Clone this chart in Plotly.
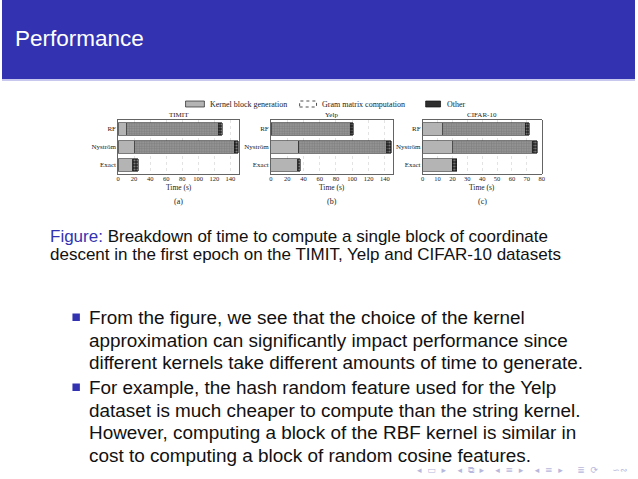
import plotly.graph_objects as go

W, H = 638, 479

categories = ["RF", "Nyström", "Exact"]
datasets = ["TIMIT", "Yelp", "CIFAR-10"]
panel_labels = ["(a)", "(b)", "(c)"]
series_names = ["Kernel block generation", "Gram matrix computation", "Other"]

timit_kernel = [10, 20, 18]
timit_gram = [115, 125, None]
timit_other = [5, 5, 7]

yelp_kernel = [0.5, 34, 33]
yelp_gram = [97, 108, None]
yelp_other = [4, 6, 3]

cifar_kernel = [13, 20, 20]
cifar_gram = [56, 54, None]
cifar_other = [2.5, 3, 3]

x_ranges = [[0, 151], [0, 150], [0, 80]]
x_tickvals = [list(range(0, 141, 20)), list(range(0, 141, 20)), list(range(0, 81, 10))]

panel_data = [
    (timit_kernel, timit_gram, timit_other),
    (yelp_kernel, yelp_gram, yelp_other),
    (cifar_kernel, cifar_gram, cifar_other),
]

def px(x):
    return x / W

def py(y):
    return 1 - y / H

x_doms = [(117, 239), (271, 394), (424, 544)]
y_dom = (120, 174)

BLUE = "#3333B2"
SERIF = "Liberation Serif"
SANS = "Liberation Sans"

fig = go.Figure()

styles = [
    dict(color="#b4b4b4", line=dict(color="#222", width=0.6)),
    dict(color="#858585", line=dict(color="#222", width=0.6),
         pattern=dict(shape="+", fgcolor="#5e5e5e", bgcolor="#939393", size=2.5, solidity=0.3)),
    dict(color="#2a2a2a", line=dict(color="#111", width=0.6),
         pattern=dict(shape=".", fgcolor="#dddddd", bgcolor="#222222", size=3, solidity=0.35)),
]

for i, (k, g, o) in enumerate(panel_data):
    xa = "x" if i == 0 else f"x{i+1}"
    ya = "y" if i == 0 else f"y{i+1}"
    for j, vals in enumerate([k, g, o]):
        fig.add_trace(go.Bar(
            x=vals, y=categories, orientation="h",
            name=series_names[j], marker=styles[j], width=0.72,
            xaxis=xa, yaxis=ya, showlegend=False,
        ))

layout = dict(
    width=W, height=H, margin=dict(l=0, r=0, t=0, b=0),
    paper_bgcolor="white", plot_bgcolor="white",
    barmode="stack", showlegend=False,
)

for i in range(3):
    sx = "" if i == 0 else str(i + 1)
    layout[f"xaxis{sx}"] = dict(
        domain=[px(x_doms[i][0]), px(x_doms[i][1])],
        anchor=f"y{sx}", range=x_ranges[i], tickvals=x_tickvals[i],
        showgrid=True, gridcolor="#d0d0d0", griddash="dot", gridwidth=0.6,
        showline=True, linecolor="#222", linewidth=0.7, mirror=True,
        ticks="", ticklabelstandoff=-2,
        tickfont=dict(family=SERIF, size=6.5, color="#222"),
        zeroline=False, fixedrange=True,
    )
    layout[f"yaxis{sx}"] = dict(
        domain=[py(y_dom[1]), py(y_dom[0])],
        anchor=f"x{sx}", categoryorder="array", categoryarray=categories[::-1],
        showline=True, linecolor="#222", linewidth=0.7, mirror=True,
        ticks="", tickfont=dict(family=SERIF, size=7, color="#222"),
        showgrid=False, zeroline=False, fixedrange=True,
    )

fig.update_layout(**layout)

# slide title bar
fig.add_shape(type="rect", xref="paper", yref="paper", x0=0, x1=1, y0=py(79), y1=1,
              fillcolor=BLUE, line=dict(width=0), layer="below")
fig.add_shape(type="rect", xref="paper", yref="paper", x0=0, x1=1, y0=py(81), y1=py(79),
              fillcolor="#c8c8ee", line=dict(width=0), layer="below")

ann = []
ann.append(dict(text="Performance", x=px(11), y=py(38), xref="paper", yref="paper",
                xanchor="left", yanchor="middle", showarrow=False,
                font=dict(family=SANS, size=22.5, color="white")))

# manual legend
leg_font = dict(family=SERIF, size=8, color="#222")
leg_items = [
    (185, 204, dict(fillcolor="#b4b4b4", line=dict(color="#222", width=0.7)), 208),
    (300, 317, dict(fillcolor="white", line=dict(color="#222", width=0.8, dash="dot")), 321),
    (427, 442, dict(fillcolor="#2e2e2e", line=dict(color="#111", width=0.7)), 447),
]
for (x0, x1, st, tx), name in zip(leg_items, series_names):
    fig.add_shape(type="rect", xref="paper", yref="paper",
                  x0=px(x0), x1=px(x1), y0=py(107), y1=py(101), **st)
    ann.append(dict(text=name, x=px(tx), y=py(104), xref="paper", yref="paper",
                    xanchor="left", yanchor="middle", showarrow=False, font=leg_font))

for i in range(3):
    cx = px((x_doms[i][0] + x_doms[i][1]) / 2)
    ann.append(dict(text=datasets[i], x=cx, y=py(115.5), xref="paper", yref="paper",
                    xanchor="center", yanchor="middle", showarrow=False,
                    font=dict(family=SERIF, size=7, color="#222")))
    ann.append(dict(text="Time (s)", x=cx, y=py(187), xref="paper", yref="paper",
                    xanchor="center", yanchor="middle", showarrow=False,
                    font=dict(family=SERIF, size=7.5, color="#222")))
    ann.append(dict(text=panel_labels[i], x=cx, y=py(201), xref="paper", yref="paper",
                    xanchor="center", yanchor="middle", showarrow=False,
                    font=dict(family=SERIF, size=8, color="#222")))

cap_font = dict(family=SANS, size=17, color="#111")
ann.append(dict(text=f"<span style='color:{BLUE}'>Figure:</span> Breakdown of time to compute a single block of coordinate",
                x=px(46), y=py(236), xref="paper", yref="paper", xanchor="left", yanchor="middle",
                showarrow=False, font=cap_font))
ann.append(dict(text="descent in the first epoch on the TIMIT, Yelp and CIFAR-10 datasets",
                x=px(46), y=py(254), xref="paper", yref="paper", xanchor="left", yanchor="middle",
                showarrow=False, font=cap_font))

bullet_lines = [
    (317, "From the figure, we see that the choice of the kernel"),
    (340, "approximation can significantly impact performance since"),
    (362, "different kernels take different amounts of time to generate."),
    (387, "For example, the hash random feature used for the Yelp"),
    (410, "dataset is much cheaper to compute than the string kernel."),
    (432, "However, computing a block of the RBF kernel is similar in"),
    (455, "cost to computing a block of random cosine features."),
]
body_font = dict(family=SANS, size=18.9, color="#111")
for yy, t in bullet_lines:
    ann.append(dict(text=t, x=px(85.5), y=py(yy), xref="paper", yref="paper",
                    xanchor="left", yanchor="middle", showarrow=False, font=body_font))

for yy in (317, 387):
    fig.add_shape(type="rect", xref="paper", yref="paper",
                  x0=px(71), x1=px(78.5), y0=py(yy + 4), y1=py(yy - 3.5),
                  fillcolor=BLUE, line=dict(width=0))

ann.append(dict(text="◂  ▭  ▸    ◂  ⧉  ▸    ◂  ≡  ▸    ◂  ≡  ▸     ≣  ⟳     ∽∾", x=px(632), y=py(470),
                xref="paper", yref="paper", xanchor="right", yanchor="middle", showarrow=False,
                font=dict(family="DejaVu Sans", size=9, color="#b8b8dc")))

fig.update_layout(annotations=ann)

fig.write_html("out.html", config={"displayModeBar": False, "staticPlot": True},
               post_script="document.documentElement.style.overflow='hidden';document.body.style.margin='0';document.body.style.padding='0';document.body.style.overflow='hidden';")
